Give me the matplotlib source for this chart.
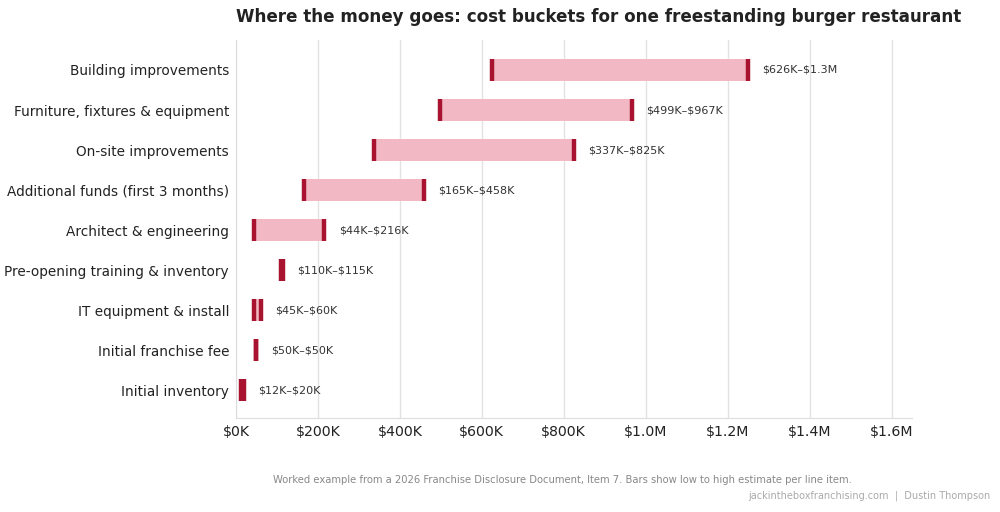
import matplotlib.pyplot as plt

plt.rcParams["text.parse_math"] = False

# line items, top to bottom (values in $K)
items = [
    "Building improvements",
    "Furniture, fixtures & equipment",
    "On-site improvements",
    "Additional funds (first 3 months)",
    "Architect & engineering",
    "Pre-opening training & inventory",
    "IT equipment & install",
    "Initial franchise fee",
    "Initial inventory",
]
low = [626, 499, 337, 165, 44, 110, 45, 50, 12]
high = [1250, 967, 825, 458, 216, 115, 60, 50, 20]
labels = ["$626K–$1.3M", "$499K–$967K", "$337K–$825K", "$165K–$458K",
          "$44K–$216K", "$110K–$115K", "$45K–$60K", "$50K–$50K", "$12K–$20K"]

xticks = [0, 200, 400, 600, 800, 1000, 1200, 1400, 1600]
xticklabels = ["$0K", "$200K", "$400K", "$600K", "$800K",
               "$1.0M", "$1.2M", "$1.4M", "$1.6M"]

pink = "#f2b8c4"
dark = "#a8132f"

fig = plt.figure(figsize=(10, 5.12), dpi=100)
ax = fig.add_axes([0.236, 0.183, 0.676, 0.739])

ypos = list(range(len(items)))[::-1]
for y, lo, hi, lab in zip(ypos, low, high, labels):
    ax.barh(y, hi - lo, left=lo, height=0.56, color=pink, zorder=2)
    ax.vlines([lo, hi], y - 0.28, y + 0.28, color=dark, lw=3.2, zorder=3)
    ax.text(hi + 35, y, lab, va="center", ha="left", fontsize=8, color="#333333")

ax.set_yticks(ypos)
ax.set_yticklabels(items, fontsize=9.8, color="#222222")
ax.set_xticks(xticks)
ax.set_xticklabels(xticklabels, fontsize=10.2, color="#222222")
ax.set_xlim(0, 1650)
ax.set_ylim(-0.7, 8.75)
ax.tick_params(length=0, pad=5)
ax.grid(axis="x", color="#e2e2e2", lw=1, zorder=0)
for s in ["top", "right"]:
    ax.spines[s].set_visible(False)
for s in ["left", "bottom"]:
    ax.spines[s].set_color("#dddddd")

ax.set_title("Where the money goes: cost buckets for one freestanding burger restaurant",
             loc="left", fontsize=12.1, fontweight="bold", color="#222222", pad=13)

fig.text(0.562, 0.057, "Worked example from a 2026 Franchise Disclosure Document, Item 7. "
         "Bars show low to high estimate per line item.",
         ha="center", fontsize=7.2, color="#888888")
fig.text(0.99, 0.026, "jackintheboxfranchising.com  |  Dustin Thompson",
         ha="right", fontsize=7, color="#aaaaaa")

fig.savefig("out.png", dpi=100, facecolor="white")
